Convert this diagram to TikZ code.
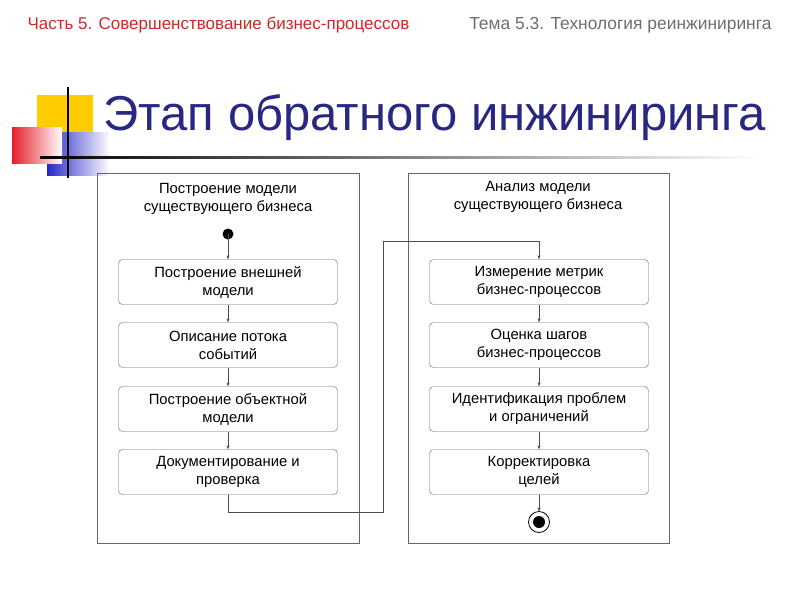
\documentclass[tikz,border=0pt]{standalone}
\usepackage{fontspec}
\setmainfont{Liberation Sans}
\usetikzlibrary{arrows.meta}
\usetikzlibrary{calc}
\definecolor{hdrred}{RGB}{204,40,40}
\definecolor{hdrgray}{RGB}{110,110,110}
\definecolor{ttlblue}{RGB}{40,40,130}
\definecolor{sqyellow}{RGB}{255,204,0}
\definecolor{sqred}{RGB}{230,30,40}
\definecolor{sqblue}{RGB}{40,40,200}
\tikzset{
  panel/.style = {draw=black!60, line width=0.6pt},
  stepbox/.style = {draw=black!60, rounded corners=4pt, minimum width=219pt, minimum height=45pt, align=center, font=\fontsize{14.8}{18}\selectfont, inner sep=0pt},
  flow/.style = {black!70, -{Stealth[length=4pt,width=3pt]}}
}
\begin{document}
\begin{tikzpicture}[x=1pt, y=-1pt]
            \useasboundingbox (0,0) rectangle (800,600);
            \fill[white] (0,0) rectangle (800,600);
            % header
            \node[anchor=west, text=hdrred, font=\fontsize{17}{19}\selectfont] (part) at (24,25) {Часть 5. Совершенствование бизнес-процессов};
            \node[anchor=east, text=hdrgray, font=\fontsize{17.4}{19}\selectfont] (topic) at (775,25) {Тема 5.3. Технология реинжиниринга};
            % squares
            \fill[sqyellow] (37,95) rectangle (93,142);
            \shade[left color=sqblue, right color=white] (47,132) rectangle (110,175);
            \shade[left color=sqred, right color=white] (12,127) rectangle (62,163);
            \shade[left color=black, right color=white] (40,156.5) rectangle (760,158.5);
            \draw[black, line width=1.8pt] (68,87) -- (68,178);
            \node[anchor=west, text=ttlblue, font=\fontsize{49}{52}\selectfont] (title) at (100,118) {Этап обратного инжиниринга};
            % panels
            \draw[panel] (97,173) rectangle (359,543);
            \draw[panel] (408,173) rectangle (669,543);
            \node[align=center, font=\fontsize{14.8}{18}\selectfont] (lhead) at (228,199) {Построение модели\\существующего бизнеса};
            \node[align=center, font=\fontsize{14.8}{18}\selectfont] (rhead) at (538,197) {Анализ модели\\существующего бизнеса};
            \fill (228,234) circle (5.5) coordinate (start);
            \node[stepbox] (l1) at (228,282) {Построение внешней\\модели};
            \node[stepbox] (l2) at (228,345) {Описание потока\\событий};
            \node[stepbox] (l3) at (228,409) {Построение объектной\\модели};
            \node[stepbox] (l4) at (228,472) {Документирование и\\проверка};
            \node[stepbox] (r1) at (539,282) {Измерение метрик\\бизнес-процессов};
            \node[stepbox] (r2) at (539,345) {Оценка шагов\\бизнес-процессов};
            \node[stepbox] (r3) at (539,409) {Идентификация проблем\\и ограничений};
            \node[stepbox] (r4) at (539,472) {Корректировка\\целей};
            \draw[black, line width=0.8pt] (539,522) circle (10.5);
            \fill (539,522) circle (6) coordinate (finish);
            \draw[flow] (start) -- (l1);
            \draw[flow] (l1) -- (l2);
            \draw[flow] (l2) -- (l3);
            \draw[flow] (l3) -- (l4);
            \draw[flow] (r1) -- (r2);
            \draw[flow] (r2) -- (r3);
            \draw[flow] (r3) -- (r4);
            \draw[flow] (r4) -- ($(finish)+(0,-10.5)$);
            \draw[flow] (l4.south) -- ++(0,17) -| (383,241) -| (r1.north);
\end{tikzpicture}
\end{document}
